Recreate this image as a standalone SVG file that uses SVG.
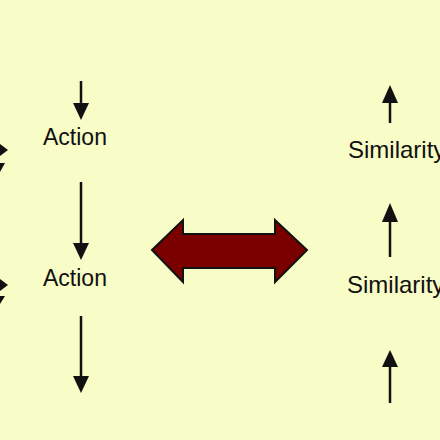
<svg xmlns="http://www.w3.org/2000/svg" width="440" height="440" viewBox="0 0 440 440">
<defs>
<style>
.bg{fill:#f8fcc6}
.lbl{font-family:"Liberation Sans",Arial,sans-serif;font-size:23px;fill:#111}
.sim{font-size:24px}
.ln{stroke:#111;stroke-width:2.5;fill:none}
.hd{fill:#111}
.big{fill:#7a0000;stroke:#111;stroke-width:2;stroke-linejoin:miter}
</style>
</defs>
<rect class="bg" x="0" y="0" width="440" height="440"/>
<g id="connectors">
<line class="ln" x1="81" y1="81" x2="81" y2="106"/>
<polygon class="hd" points="73,103 89,103 81,120"/>
<line class="ln" x1="81" y1="182" x2="81" y2="246"/>
<polygon class="hd" points="73,243 89,243 81,260"/>
<line class="ln" x1="81" y1="316" x2="81" y2="380"/>
<polygon class="hd" points="73,376 89,376 81,393"/>
<line class="ln" x1="390" y1="100" x2="390" y2="123"/>
<polygon class="hd" points="382,103 398,103 390,85"/>
<line class="ln" x1="390" y1="219" x2="390" y2="257"/>
<polygon class="hd" points="382,222 398,222 390,203"/>
<line class="ln" x1="390" y1="364" x2="390" y2="403"/>
<polygon class="hd" points="382,367 398,367 390,350"/>
<polygon class="hd" points="0,144 8,150 0,156"/>
<polygon class="hd" points="0,163 5,163 0,172"/>
<polygon class="hd" points="0,279 8,285 0,291"/>
<polygon class="hd" points="0,296 5,296 0,304"/>
</g>
<g id="double-arrow">
<polygon class="big" points="152,250 183,220 183,234 275,234 275,220 307,250 275,282 275,268 183,268 183,282"/>
</g>
<g id="action1"><text class="lbl" x="75" y="145" text-anchor="middle">Action</text></g>
<g id="action2"><text class="lbl" x="75" y="286" text-anchor="middle">Action</text></g>
<g id="similarity1"><text class="lbl sim" x="348" y="158">Similarity</text></g>
<g id="similarity2"><text class="lbl sim" x="347" y="293">Similarity</text></g>
</svg>
